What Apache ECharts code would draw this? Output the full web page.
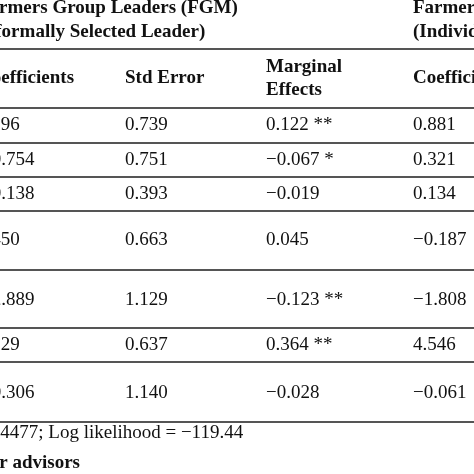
<!DOCTYPE html>
<html><head><meta charset="utf-8">
<script src="https://cdn.jsdelivr.net/npm/echarts@6/dist/echarts.min.js"></script>
<style>html,body{margin:0;padding:0;background:#fff}#c{width:474px;height:474px}</style>
</head><body><div id="c"></div>
<script>
const groupTitles = [["Farmers Group Leaders (FGM)", "(Informally Selected Leader)"], ["Farmers Group Members", "(Individual Farmers)"]];
const columnHeaders = [["Coefficients"], ["Std Error"], ["Marginal", "Effects"], ["Coefficients"]];
const coefficients = ["0.396", "−0.754", "−0.138", "0.450", "−2.889", "1.229", "−0.306"];
const stdErrors = ["0.739", "0.751", "0.393", "0.663", "1.129", "0.637", "1.140"];
const marginalEffects = ["0.122 **", "−0.067 *", "−0.019", "0.045", "−0.123 **", "0.364 **", "−0.028"];
const coefficients2 = ["0.881", "0.321", "0.134", "−0.187", "−1.808", "4.546", "−0.061"];
const footnote = "0.4477; Log likelihood = −119.44";
const sectionLabel = "Farmer advisors";

const F = "'Liberation Serif','DejaVu Serif',serif";
const colX = [-23, 125, 266, 413];
const rowY = [125, 160, 194, 240, 300, 345, 393];
const rules = [49, 108, 143, 177, 211, 270, 328, 362, 422];
const g = [];
function txt(x, y, s, bold, align) {
  g.push({type:'text', x:x, y:y, style:{text:s, font:(bold?'bold ':'')+'19px '+F, fill:'#111', textAlign:align||'left', textVerticalAlign:'middle'}});
}
txt(-22, 8, groupTitles[0][0], true); txt(-29, 32, groupTitles[0][1], true);
txt(413, 8, groupTitles[1][0], true); txt(413, 32, groupTitles[1][1], true);
columnHeaders.forEach((h, i) => {
  const x = i === 0 ? -22 : colX[i];
  if (h.length === 1) txt(x, 78, h[0], true);
  else { txt(x, 67, h[0], true); txt(x, 90, h[1], true); }
});
[coefficients, stdErrors, marginalEffects, coefficients2].forEach((col, ci) => {
  col.forEach((v, ri) => {
    let x = colX[ci];
    if (ci === 0 && v[0] === '−') x = -19;
    txt(x, rowY[ri], v, false);
  });
});
txt(-14, 433, footnote, false);
txt(80, 463, sectionLabel, true, 'right');
rules.forEach(y => g.push({type:'line', shape:{x1:0, y1:y, x2:474, y2:y}, style:{stroke:'#555', lineWidth:2}}));
const chart = echarts.init(document.getElementById('c'));
chart.setOption({backgroundColor:'#fff', graphic:{elements:g}});
</script></body></html>
